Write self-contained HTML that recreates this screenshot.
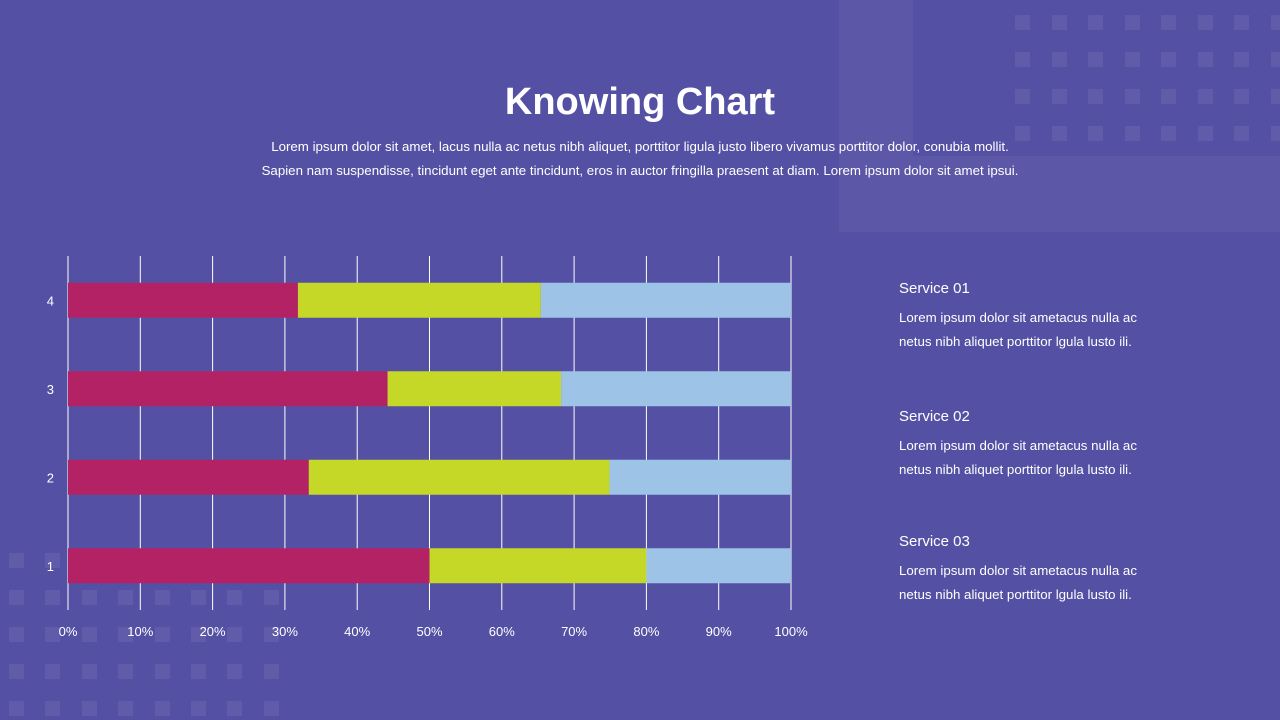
<!DOCTYPE html>
<html><head><meta charset="utf-8"><style>
body{margin:0;width:1280px;height:720px;background:#5450a3;overflow:hidden;position:relative;font-family:"Liberation Sans",sans-serif;color:#fff}
.a{position:absolute}
.sq{position:absolute;width:15px;height:15px;background:rgba(255,255,255,0.07)}
.t{position:absolute;white-space:nowrap}
</style></head><body>
<div class="a" style="left:839px;top:0;width:74px;height:156px;background:rgba(255,255,255,0.05)"></div>
<div class="a" style="left:839px;top:156px;width:441px;height:76px;background:rgba(255,255,255,0.05)"></div>
<div id="deco"></div>
<div class="t" style="left:0;width:1280px;text-align:center;top:81px;font-size:38px;font-weight:bold">Knowing Chart</div>
<div class="t" style="left:0;width:1280px;text-align:center;top:135px;font-size:13.3px;line-height:24px">Lorem ipsum dolor sit amet, lacus nulla ac netus nibh aliquet, porttitor ligula justo libero vivamus porttitor dolor, conubia mollit.<br>Sapien nam suspendisse, tincidunt eget ante tincidunt, eros in auctor fringilla praesent at diam. Lorem ipsum dolor sit amet ipsui.</div>
<svg id="chart" class="a" style="left:0;top:0" width="900" height="720"></svg>
<div class="t" style="left:899px;top:280px;font-size:15px">Service 01</div>
<div class="t" style="left:899px;top:306px;font-size:13.3px;line-height:24px">Lorem ipsum dolor sit ametacus nulla ac<br>netus nibh aliquet porttitor lgula lusto ili.</div>
<div class="t" style="left:899px;top:408px;font-size:15px">Service 02</div>
<div class="t" style="left:899px;top:434px;font-size:13.3px;line-height:24px">Lorem ipsum dolor sit ametacus nulla ac<br>netus nibh aliquet porttitor lgula lusto ili.</div>
<div class="t" style="left:899px;top:533px;font-size:15px">Service 03</div>
<div class="t" style="left:899px;top:559px;font-size:13.3px;line-height:24px">Lorem ipsum dolor sit ametacus nulla ac<br>netus nibh aliquet porttitor lgula lusto ili.</div>
<script>
const categories=["1","2","3","4"];
const seriesA=[50,33.3,44.2,31.8];
const seriesB=[30,41.6,24,33.6];
const seriesC=[20,25.1,31.8,34.6];
const ticks=[0,10,20,30,40,50,60,70,80,90,100];
const colors=["#b32264","#c5d828","#9dc3e6"];
const NS="http://www.w3.org/2000/svg";
const svg=document.getElementById('chart');
const x0=68,x1=791,yTop=256,yBot=610;
const xs=v=>x0+(x1-x0)*v/100;
const band=(yBot-yTop)/categories.length;
const yc=i=>yBot-band*(i+0.5);
function mk(t,a){const e=document.createElementNS(NS,t);for(const k in a)e.setAttribute(k,a[k]);svg.appendChild(e);return e;}
ticks.forEach(t=>{
 const l=mk('line',{x1:xs(t),x2:xs(t),y1:yTop,y2:yBot,stroke:'#fff','stroke-width':1});
 
 
 const tx=mk('text',{x:xs(t),y:636,'text-anchor':'middle',fill:'#fff','font-size':13,'font-family':'Liberation Sans'});
 tx.textContent=t+'%';
 
 
});
categories.forEach((c,i)=>{
 const vals=[seriesA[i],seriesB[i],seriesC[i]];let acc=0;
 vals.forEach((v,j)=>{
  const r=mk('rect',{x:xs(acc),y:yc(i)-17.5,width:xs(acc+v)-xs(acc),height:35,fill:colors[j]});
  
  
  acc+=v;
 });
 const tx=mk('text',{x:54,y:yc(i)+5,'text-anchor':'end',fill:'#fff','font-size':13,'font-family':'Liberation Sans'});
 tx.textContent=c;
 
 
});
const deco=document.getElementById('deco');
function sq(x,y){const d=document.createElement('div');d.className='sq';d.style.left=x+'px';d.style.top=y+'px';
 
 
 deco.appendChild(d);}
for(let r=0;r<4;r++)for(let c=0;c<8;c++)sq(1015+c*36.5,15+r*37);
for(let r=0;r<5;r++)for(let c=0;c<8;c++)sq(9+c*36.4,553+r*37);
</script>
</body></html>
